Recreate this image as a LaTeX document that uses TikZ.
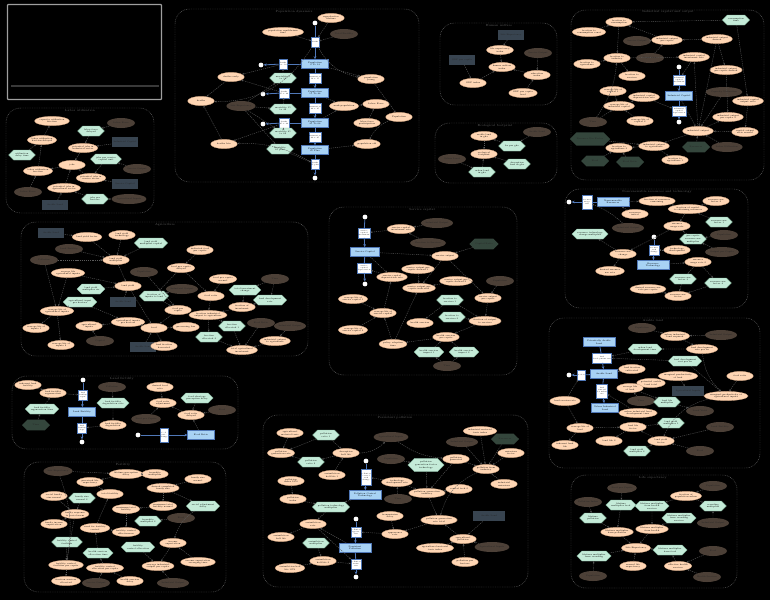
\documentclass[tikz,border=0pt]{standalone}
\usepackage{xcolor}
\usepackage{tikz}
\usetikzlibrary{shapes.geometric,shapes.symbols,arrows.meta}

\definecolor{peach}{RGB}{255,214,180}
\definecolor{peachline}{RGB}{205,160,125}
\definecolor{mint}{RGB}{196,235,216}
\definecolor{mintline}{RGB}{130,180,155}
\definecolor{ghostbrown}{RGB}{76,64,55}
\definecolor{ghostslate}{RGB}{56,68,80}
\definecolor{ghostgreen}{RGB}{52,70,60}
\definecolor{stockblue}{RGB}{168,210,244}
\definecolor{flowblue}{RGB}{80,120,184}
\definecolor{linkgray}{RGB}{90,90,90}
\definecolor{framegray}{RGB}{95,95,95}

\begin{document}
\begin{tikzpicture}[x=0.75pt,y=0.75pt,yscale=-1,xscale=1,
    tiny/.style={font=\fontsize{1.6}{1.9}\selectfont, align=center},
    var/.style={tiny, ellipse, fill=peach, draw=peachline, line width=0.2pt, inner sep=0pt, minimum width=20pt, minimum height=7pt},
    aux/.style={tiny, signal, signal to=east and west, fill=mint, draw=mintline, line width=0.2pt, inner sep=0.4pt, minimum width=20pt, minimum height=7.5pt},
    ghost/.style={tiny, ellipse, fill=ghostbrown, text=black!85, inner sep=0pt, minimum width=21pt, minimum height=7.5pt},
    ghostbox/.style={tiny, rectangle, fill=ghostslate, text=black!85, inner sep=0pt, minimum width=20pt, minimum height=7pt},
    ghosthex/.style={tiny, signal, signal to=east and west, fill=ghostgreen, text=black!85, inner sep=0.4pt, minimum width=21pt, minimum height=8pt},
    stock/.style={tiny, rectangle, fill=stockblue, draw=flowblue, line width=0.3pt, inner sep=0.5pt, minimum width=20pt, minimum height=7pt},
    valve/.style={rectangle, fill=white, draw=flowblue, line width=0.2pt, inner sep=0.4pt, minimum width=5.5pt, minimum height=7pt, font=\fontsize{1.3}{1.5}\selectfont, align=center},
    sink/.style={circle, fill=white, inner sep=0pt, minimum size=3.6pt},
    link/.style={draw=linkgray, line width=0.3pt, dash pattern=on 0.9pt off 0.7pt, -{Stealth[length=1.6pt,width=1.3pt]}},
    pipeline/.style={draw=flowblue, line width=0.6pt},
    pipe/.style={draw=flowblue, line width=0.6pt, -{Stealth[length=2.2pt,width=2pt]}},
    sector/.style={draw=framegray, line width=0.35pt, dash pattern=on 0.6pt off 0.7pt, rounded corners=11pt},
    sectitle/.style={font=\fontsize{2.2}{2.5}\selectfont, text=framegray}]

% page
\fill[black] (0,0) rectangle (770,600);
\useasboundingbox (0,0) rectangle (770,600);

% legend panel
\draw[gray!75, line width=0.9pt, rounded corners=0.6pt] (7.5,4.5) rectangle (161.5,99.5);
\draw[gray!45!black, line width=1.1pt] (11,86) -- (159,86);

% ---------------- labor utilization
\draw[sector] (6,108) rectangle (154,213);
\node[sectitle] (lutitle) at (80,110.5) {Labor utilization};
\node[var] (lu1) at (52,121) {capacity utilization\\fraction};
\node[aux] (lu2) at (91,131) {labor force\\delayed};
\node[ghost] (lu3) at (121,123) {Labor Force};
\node[var] (lu4) at (42,140) {labor utilization\\fraction delayed};
\node[ghostbox] (lu5) at (125,142) {Industrial Capital};
\node[var] (lu6) at (83,148) {potential jobs in\\industrial sector};
\node[aux] (lu7) at (22,155) {utilization\\delay time};
\node[aux] (lu8) at (106,159) {jobs per service\\capital unit};
\node[var] (lu9) at (72,165) {jobs};
\node[ghost] (lu10) at (137,169) {Service Output};
\node[var] (lu11) at (38,171) {labor utilization\\fraction};
\node[var] (lu12) at (91,178) {potential jobs in\\service sector};
\node[ghostbox] (lu13) at (125,184) {Service Capital};
\node[ghost] (lu14) at (28,192) {Labor Force};
\node[var] (lu15) at (64,188) {potential jobs in\\agricultural sector};
\node[ghostbox] (lu16) at (55,205) {Arable Land};
\node[aux] (lu17) at (95,199) {jobs per\\hectare};
\node[ghost] (lu18) at (129,199) {Agricultural Inputs};
\draw[link] (lu4) -- (lu1);
\draw[link] (lu7) -- (lu4);
\draw[link] (lu11) -- (lu4);
\draw[link] (lu3) -- (lu2);
\draw[link] (lu2) -- (lu6);
\draw[link] (lu5) -- (lu6);
\draw[link] (lu6) -- (lu9);
\draw[link] (lu8) -- (lu12);
\draw[link] (lu10) -- (lu8);
\draw[link] (lu13) -- (lu12);
\draw[link] (lu12) -- (lu9);
\draw[link] (lu15) -- (lu9);
\draw[link] (lu16) -- (lu15);
\draw[link] (lu17) -- (lu15);
\draw[link] (lu18) -- (lu17);
\draw[link] (lu9) -- (lu11);
\draw[link] (lu14) -- (lu11);

% ---------------- population
\draw[sector] (175,9) rectangle (419,182);
\node[sectitle] (potitle) at (294,11.5) {Population dynamics};
\node[sink] (poc0) at (315,23) {};
\node[var] (po1) at (331,18) {reproductive\\lifetime};
\node[var] (po2) at (283,32) {population equilibrium\\time};
\node[ghost] (po3) at (344,34) {Total Fertility};
\node[valve] (pov0) at (315,42) {births};
\node[stock] (ps1) at (315,64) {Population\\0 To 14};
\node[valve] (pod1) at (283,64) {deaths\\0 to 14};
\node[sink] (poc1) at (261,65) {};
\node[var] (po4) at (231,77) {deaths early};
\node[aux] (pm1) at (283,78) {mortality 0\\to 14};
\node[valve] (pov1) at (315,78) {maturation\\14 to 15};
\node[var] (po5) at (371,79) {population\\young};
\node[var] (po6) at (201,101) {deaths};
\node[stock] (ps2) at (315,93) {Population\\15 To 44};
\node[valve] (pod2) at (284,93) {deaths\\15 to 44};
\node[sink] (poc2) at (263,94) {};
\node[ghost] (po7) at (241,106) {Life Expectancy};
\node[aux] (pm2) at (283,109) {mortality 15\\to 44};
\node[valve] (pov2) at (315,108) {maturation\\44 to 45};
\node[var] (po8) at (344,106) {work population};
\node[var] (po9) at (376,104) {Labor Force};
\node[var] (po10) at (399,117) {Population};
\node[var] (po11) at (367,123) {labor force\\participation};
\node[stock] (ps3) at (315,123) {Population\\45 To 64};
\node[valve] (pod3) at (284,123) {deaths\\45 to 64};
\node[sink] (poc3) at (263,124) {};
\node[aux] (pm3) at (283,133) {mortality 45\\to 64};
\node[valve] (pov3) at (315,137) {maturation\\64 to 65};
\node[var] (po12) at (224,144) {deaths late};
\node[var] (po13) at (367,144) {population old};
\node[aux] (pm4) at (280,149) {mortality\\65 plus};
\node[stock] (ps4) at (315,150) {Population\\65 Plus};
\node[valve] (pov4) at (315,164) {deaths\\65 plus};
\node[sink] (poc4) at (315,178) {};
\draw[pipeline] (poc0) -- (pov0);
\draw[pipe] (pov0) -- (ps1);
\draw[pipeline] (ps1) -- (pov1);
\draw[pipe] (pov1) -- (ps2);
\draw[pipeline] (ps2) -- (pov2);
\draw[pipe] (pov2) -- (ps3);
\draw[pipeline] (ps3) -- (pov3);
\draw[pipe] (pov3) -- (ps4);
\draw[pipeline] (ps4) -- (pov4);
\draw[pipe] (pov4) -- (poc4);
\draw[pipeline] (ps1) -- (pod1);
\draw[pipe] (pod1) -- (poc1);
\draw[pipeline] (ps2) -- (pod2);
\draw[pipe] (pod2) -- (poc2);
\draw[pipeline] (ps3) -- (pod3);
\draw[pipe] (pod3) -- (poc3);
\draw[link] (po1) -- (pov0);
\draw[link] (po2) -- (pov0);
\draw[link] (po3) -- (pov0);
\draw[link] (pm1) -- (pod1);
\draw[link] (pm2) -- (pod2);
\draw[link] (pm3) -- (pod3);
\draw[link] (pm4) -- (pov4);
\draw[link] (po7) -- (pm1);
\draw[link] (po7) -- (pm2);
\draw[link] (po7) -- (pm3);
\draw[link] (po7) -- (pm4);
\draw[link] (pod1) -- (po4);
\draw[link] (pod2) -- (po4);
\draw[link] (po4) -- (po6);
\draw[link] (pod3) -- (po12);
\draw[link] (pov4) to[bend left=15] (po12);
\draw[link] (po12) -- (po6);
\draw[link] (pov0) to[bend right=30] (po6);
\draw[link] (pov0) to[bend left=25] (po5);
\draw[link] (ps1) -- (po5);
\draw[link] (ps2) -- (po8);
\draw[link] (ps3) -- (po8);
\draw[link] (po8) -- (po9);
\draw[link] (po11) -- (po9);
\draw[link] (po5) -- (po10);
\draw[link] (ps4) -- (po13);
\draw[link] (po10) to[bend left=20] (po13);

% ---------------- human welfare
\draw[sector] (440,23) rectangle (557,105);
\node[sectitle] (hwtitle) at (499,25.5) {Human welfare};
\node[ghostbox] (hw1) at (511,35) {Life Expectancy};
\node[var] (hw2) at (500,50) {life expectancy\\index};
\node[ghostbox] (hw3) at (462,60) {GDP per capita};
\node[ghost] (hw4) at (538,53) {Service Output};
\node[var] (hw5) at (502,67) {human welfare\\index};
\node[var] (hw6) at (537,75) {education\\index};
\node[var] (hw7) at (473,83) {GDP index};
\node[var] (hw8) at (523,93) {GDP per capita\\level};
\draw[link] (hw1) -- (hw2);
\draw[link] (hw2) -- (hw5);
\draw[link] (hw3) -- (hw7);
\draw[link] (hw7) -- (hw5);
\draw[link] (hw4) -- (hw6);
\draw[link] (hw6) -- (hw5);
\draw[link] (hw8) -- (hw6);

% ---------------- ecological footprint
\draw[sector] (435,123) rectangle (557,183);
\node[sectitle] (eftitle) at (495,125.5) {Ecological footprint};
\node[var] (ef1) at (484,136) {arable land\\in gha};
\node[ghost] (ef2) at (537,132) {Arable Land};
\node[aux] (ef3) at (512,146) {ha per gha};
\node[var] (ef4) at (484,154) {ecological\\footprint};
\node[ghost] (ef5) at (452,159) {Urban Land};
\node[aux] (ef6) at (517,164) {absorption\\land in gha};
\node[aux] (ef7) at (482,172) {urban land\\in gha};
\draw[link] (ef2) -- (ef3);
\draw[link] (ef3) -- (ef1);
\draw[link] (ef1) -- (ef4);
\draw[link] (ef6) -- (ef4);
\draw[link] (ef7) -- (ef4);
\draw[link] (ef5) -- (ef7);

% ---------------- industrial capital
\draw[sector] (571,10) rectangle (764,180);
\node[sectitle] (ictitle) at (668,11.5) {Industrial capital and output};
\node[var] (ic1) at (619,22) {fraction to\\consumption};
\node[aux] (ic2) at (736,20) {consumption\\time};
\node[var] (ic3) at (589,32) {fraction to\\consumption const};
\node[ghost] (ic4) at (637,41) {Service Output};
\node[var] (ic5) at (667,40) {industrial output\\per capita};
\node[var] (ic6) at (717,39) {industrial output\\desired};
\node[ghost] (ic7) at (650,58) {Population};
\node[var] (ic8) at (617,58) {fraction to\\industry};
\node[var] (ic9) at (694,57) {industrial capital\\investment rate};
\node[var] (ic10) at (587,64) {fraction to\\agriculture};
\node[sink] (icc1) at (679,67) {};
\node[var] (ic11) at (632,76) {fraction to\\services};
\node[valve] (icv1) at (679,80) {industrial\\capital\\investment};
\node[var] (ic12) at (726,70) {industrial output\\per capita desired};
\node[var] (ic13) at (613,91) {average life of\\capital 1};
\node[stock] (ics) at (679,96) {Industrial Capital};
\node[var] (ic14) at (644,97) {industrial capital\\depreciation rate};
\node[ghost] (ic15) at (724,92) {Capacity Utilization};
\node[var] (ic16) at (619,106) {average life of\\industrial capital};
\node[var] (ic17) at (748,101) {industrial capital\\output ratio};
\node[valve] (icv2) at (679,111) {industrial\\capital\\depreciation};
\node[var] (ic18) at (640,121) {average life of\\capital 2};
\node[ghost] (ic19) at (593,122) {Time};
\node[var] (ic20) at (728,117) {industrial output\\per capita 2};
\node[sink] (icc2) at (679,122) {};
\node[var] (ic21) at (698,131) {industrial output};
\node[var] (ic22) at (745,132) {capital output\\ratio normal};
\node[ghosthex, minimum width=28pt, minimum height=10pt] (ic23) at (590,139) {Resource Use Factor};
\node[var] (ic24) at (654,146) {industrial output\\to agriculture};
\node[ghosthex] (ic25) at (696,147) {Resources};
\node[ghost] (ic26) at (727,147) {Labor Utilization};
\node[var] (ic27) at (619,148) {fraction to\\agriculture 2};
\node[ghosthex] (ic28) at (595,161) {Food};
\node[ghosthex] (ic29) at (630,162) {Food Ratio};
\node[var] (ic30) at (675,160) {fraction to\\agriculture 1};
\draw[pipeline] (icc1) -- (icv1);
\draw[pipe] (icv1) -- (ics);
\draw[pipeline] (ics) -- (icv2);
\draw[pipe] (icv2) -- (icc2);
\draw[link] (ic2) -- (ic1);
\draw[link] (ic3) -- (ic1);
\draw[link] (ic5) -- (ic1);
\draw[link] (ic1) -- (ic8);
\draw[link] (ic4) -- (ic5);
\draw[link] (ic7) -- (ic5);
\draw[link] (ic6) -- (ic5);
\draw[link] (ic6) -- (ic12);
\draw[link] (ic10) -- (ic8);
\draw[link] (ic8) -- (ic11);
\draw[link] (ic8) -- (ic9);
\draw[link] (ic9) -- (icv1);
\draw[link] (ic19) to[bend left=15] (ic8);
\draw[link] (ic13) -- (ic16);
\draw[link] (ic18) -- (ic16);
\draw[link] (ic19) -- (ic16);
\draw[link] (ic16) -- (ic14);
\draw[link] (ic14) -- (icv2);
\draw[link] (ics) -- (ic21);
\draw[link] (ic15) -- (ic21);
\draw[link] (ic26) -- (ic21);
\draw[link] (ic25) -- (ic21);
\draw[link] (ic22) -- (ic21);
\draw[link] (ic2) -- (ic17);
\draw[link] (ic17) -- (ic22);
\draw[link] (ic12) -- (ic20);
\draw[link] (ic21) -- (ic20);
\draw[link] (ic21) -- (ic9);
\draw[link] (ic6) -- (ic21);
\draw[link] (ic21) -- (ic24);
\draw[link] (ic23) -- (ic24);
\draw[link] (ic24) -- (ic27);
\draw[link] (ic24) -- (ic30);
\draw[link] (ic28) -- (ic27);
\draw[link] (ic29) -- (ic27);

% ---------------- agriculture
\draw[sector] (21,222) rectangle (308,356);
\node[sectitle] (agtitle) at (165,224.5) {Agriculture};
\node[ghostbox] (ag1) at (51,233) {Arable Land};
\node[var] (ag2) at (87,237) {land yield factor};
\node[var] (ag3) at (122,235) {land yield\\technology};
\node[aux] (ag4) at (151,243) {land yield\\multiplier capital};
\node[ghost] (ag5) at (69,249) {Land Fertility};
\node[var] (ag6) at (200,250) {indicated food\\per capita};
\node[ghost] (ag7) at (44,260) {Pollution};
\node[var] (ag8) at (116,260) {land yield\\multiplier};
\node[var] (ag9) at (181,268) {food per capita\\delayed};
\node[ghost] (ag10) at (144,272) {Population};
\node[var] (ag11) at (68,273) {average life\\agricultural inputs};
\node[var] (ag12) at (128,286) {land yield};
\node[aux] (ag13) at (91,289) {land yield\\multiplier air};
\node[ghost] (ag14) at (182,289) {Industrial Output};
\node[var] (ag15) at (223,279) {food per capita\\normal};
\node[ghost] (ag16) at (275,279) {Time};
\node[aux] (ag17) at (154,296) {fraction of\\inputs to land};
\node[var] (ag18) at (211,296) {food ratio};
\node[aux] (ag19) at (245,290) {total investment\\change};
\node[ghostbox] (ag20) at (123,302) {Arable Land};
\node[aux] (ag21) at (80,302) {agricultural input\\per hectare};
\node[aux] (ag22) at (270,300) {land development\\rate};
\node[var] (ag23) at (178,310) {food per\\capita};
\node[var] (ag24) at (242,307) {fraction of\\investment};
\node[var] (ag25) at (57,311) {average life of\\agricultural inputs};
\node[var] (ag26) at (208,315) {fraction industrial\\output to agriculture};
\node[var] (ag27) at (128,322) {agricultural inputs\\per hectare};
\node[var] (ag28) at (89,326) {agricultural\\inputs};
\node[aux] (ag29) at (232,326) {fraction\\allocated 1};
\node[ghost] (ag30) at (261,323) {Food Ratio};
\node[var] (ag31) at (186,327) {processing loss};
\node[var] (ag32) at (154,328) {food};
\node[ghost] (ag33) at (290,326) {Industrial Output};
\node[var] (ag34) at (36,328) {average life of\\inputs 1};
\node[aux] (ag35) at (209,337) {fraction\\allocated 2};
\node[ghost] (ag36) at (100,341) {Capital};
\node[var] (ag37) at (61,345) {average life of\\inputs 2};
\node[ghostbox] (ag38) at (143,347) {Arable Land};
\node[var] (ag39) at (164,346) {land fraction\\harvested};
\node[var] (ag40) at (242,350) {total agricultural\\investment};
\node[var] (ag41) at (275,341) {industrial output\\to agriculture};
\draw[link] (ag1) -- (ag2);
\draw[link] (ag2) -- (ag8);
\draw[link] (ag3) -- (ag8);
\draw[link] (ag4) -- (ag8);
\draw[link] (ag5) -- (ag8);
\draw[link] (ag7) -- (ag8);
\draw[link] (ag8) -- (ag12);
\draw[link] (ag11) -- (ag12);
\draw[link] (ag13) -- (ag12);
\draw[link] (ag20) -- (ag12);
\draw[link] (ag12) -- (ag32);
\draw[link] (ag6) -- (ag9);
\draw[link] (ag9) -- (ag17);
\draw[link] (ag9) -- (ag18);
\draw[link] (ag10) -- (ag23);
\draw[link] (ag14) -- (ag17);
\draw[link] (ag17) -- (ag23);
\draw[link] (ag23) -- (ag32);
\draw[link] (ag15) -- (ag18);
\draw[link] (ag18) -- (ag26);
\draw[link] (ag16) -- (ag19);
\draw[link] (ag16) -- (ag22);
\draw[link] (ag19) -- (ag24);
\draw[link] (ag22) -- (ag24);
\draw[link] (ag24) -- (ag26);
\draw[link] (ag26) -- (ag29);
\draw[link] (ag26) -- (ag35);
\draw[link] (ag29) -- (ag40);
\draw[link] (ag35) -- (ag40);
\draw[link] (ag30) -- (ag40);
\draw[link] (ag33) -- (ag41);
\draw[link] (ag41) -- (ag40);
\draw[link] (ag7) -- (ag25);
\draw[link] (ag11) -- (ag25);
\draw[link] (ag21) -- (ag25);
\draw[link] (ag25) -- (ag34);
\draw[link] (ag25) -- (ag37);
\draw[link] (ag21) -- (ag27);
\draw[link] (ag27) -- (ag28);
\draw[link] (ag36) -- (ag28);
\draw[link] (ag27) -- (ag32);
\draw[link] (ag38) -- (ag32);
\draw[link] (ag32) -- (ag31);
\draw[link] (ag32) -- (ag39);

% ---------------- services
\draw[sector] (329,207) rectangle (517,375);
\node[sectitle] (svtitle) at (422,209.5) {Service capital};
\node[sink] (svc1) at (365,217) {};
\node[valve] (svv1) at (364,233) {service\\capital\\investment};
\node[var] (sv1) at (401,229) {service capital\\investment rate};
\node[ghost] (sv2) at (437,223) {Industrial Output};
\node[ghost] (sv3) at (428,243) {Fraction to Services};
\node[stock, minimum width=22pt] (svs) at (365,252) {Service Capital};
\node[ghosthex] (sv4) at (484,244) {Capital Ratio};
\node[var] (sv5) at (445,256) {service output};
\node[valve] (svv2) at (364,268) {service\\capital\\depreciation};
\node[var] (sv6) at (418,269) {service output per\\capita desired 1};
\node[var] (sv7) at (392,277) {service capital\\depreciation rate};
\node[var] (sv8) at (456,281) {service output per\\capita desired 2};
\node[var] (sv9) at (419,288) {service output per\\capita indicated};
\node[ghost] (sv10) at (500,281) {Population};
\node[sink] (svc2) at (365,284) {};
\node[var] (sv11) at (353,299) {average life of\\service capital 1};
\node[var] (sv12) at (488,298) {service output\\per capita};
\node[aux] (sv13) at (450,300) {fraction to\\services 1};
\node[var] (sv14) at (383,313) {average life of\\service capital};
\node[aux] (sv15) at (452,317) {fraction to\\services 2};
\node[var] (sv16) at (420,323) {health services};
\node[var] (sv17) at (485,321) {fraction of output\\to services};
\node[var] (sv18) at (353,330) {average life of\\service capital 2};
\node[var] (sv19) at (446,337) {health services\\per capita};
\node[var] (sv20) at (393,344) {policy adoption\\time};
\node[aux] (sv21) at (429,352) {health services\\impact 1};
\node[aux] (sv22) at (464,352) {health services\\impact 2};
\node[ghost] (sv23) at (447,366) {Time};
\draw[pipeline] (svc1) -- (svv1);
\draw[pipe] (svv1) -- (svs);
\draw[pipeline] (svs) -- (svv2);
\draw[pipe] (svv2) -- (svc2);
\draw[link] (sv1) -- (svv1);
\draw[link] (sv2) -- (sv1);
\draw[link] (sv3) -- (sv1);
\draw[link] (svs) -- (sv5);
\draw[link] (sv4) -- (sv5);
\draw[link] (svs) -- (sv7);
\draw[link] (sv7) -- (svv2);
\draw[link] (sv6) -- (sv9);
\draw[link] (sv8) -- (sv9);
\draw[link] (sv5) -- (sv9);
\draw[link] (sv5) -- (sv12);
\draw[link] (sv10) -- (sv12);
\draw[link] (sv12) -- (sv17);
\draw[link] (sv13) -- (sv17);
\draw[link] (sv15) -- (sv17);
\draw[link] (sv17) -- (sv19);
\draw[link] (sv21) -- (sv19);
\draw[link] (sv22) -- (sv19);
\draw[link] (sv23) -- (sv21);
\draw[link] (sv23) -- (sv22);
\draw[link] (sv11) -- (sv14);
\draw[link] (sv18) -- (sv14);
\draw[link] (sv14) -- (sv7);
\draw[link] (sv20) -- (sv14);
\draw[link] (sv20) -- (sv9);
\draw[link] (sv13) -- (sv16);
\draw[link] (sv19) -- (sv20);

% ---------------- nonrenewable resources
\draw[sector] (565,189) rectangle (748,308);
\node[sectitle] (nrtitle) at (657,191.5) {Nonrenewable resources and technology};
\node[sink] (nrc1) at (569,202) {};
\node[valve, minimum height=11pt] (nrv1) at (587,202) {resource\\usage\\rate};
\node[stock, minimum width=24pt] (nrs1) at (613,202) {Nonrenewable\\Resources};
\node[var] (nr1) at (657,201) {fraction of resources\\remaining};
\node[var] (nr2) at (716,201) {resource use\\factor 2};
\node[var] (nr3) at (688,209) {fraction of capital\\to obtaining resources};
\node[var] (nr4) at (635,214) {resources\\initial};
\node[aux] (nr5) at (719,222) {resource use\\factor 1};
\node[ghost] (nr6) at (628,228) {Industrial Output};
\node[var] (nr7) at (677,226) {resource\\usage rate};
\node[ghost] (nr8) at (724,235) {Population};
\node[aux, minimum width=24pt] (nr9) at (590,234) {resource technology\\change multiplier};
\node[aux] (nr10) at (693,239) {per capita\\resource use\\multiplier};
\node[sink] (nrc2) at (654,237) {};
\node[valve] (nrv2) at (654,250) {resource\\tech\\change};
\node[var] (nr11) at (677,250) {technology\\development};
\node[ghost] (nr12) at (722,252) {Output per Capita};
\node[var] (nr13) at (623,254) {resource use\\change};
\node[stock, minimum width=24pt] (nrs2) at (653,265) {Resource\\Technology};
\node[var] (nr14) at (698,262) {resource\\usage rate 2};
\node[var] (nr15) at (610,271) {desired resource\\use rate};
\node[aux] (nr16) at (683,279) {resource use\\factor 3};
\node[aux] (nr17) at (718,283) {resource use\\factor 4};
\node[var] (nr18) at (648,289) {desired resource use\\rate per capita};
\node[var] (nr19) at (678,296) {resource use\\factor};
\draw[pipeline] (nrs1) -- (nrv1);
\draw[pipe] (nrv1) -- (nrc1);
\draw[pipeline] (nrc2) -- (nrv2);
\draw[pipe] (nrv2) -- (nrs2);
\draw[link] (nrs1) -- (nr1);
\draw[link] (nr1) -- (nr3);
\draw[link] (nr5) -- (nr3);
\draw[link] (nr2) -- (nr3);
\draw[link] (nr3) -- (nr7);
\draw[link] (nr4) -- (nrs1);
\draw[link] (nr6) to[bend left=10] (nrv1);
\draw[link] (nr7) -- (nr13);
\draw[link] (nr13) -- (nr9);
\draw[link] (nr13) -- (nr15);
\draw[link] (nr10) -- (nr7);
\draw[link] (nr8) -- (nr10);
\draw[link] (nr12) -- (nr10);
\draw[link] (nr11) -- (nrv2);
\draw[link] (nrs2) -- (nr14);
\draw[link] (nr14) -- (nr16);
\draw[link] (nr14) -- (nr17);
\draw[link] (nr16) -- (nr19);
\draw[link] (nr17) -- (nr19);
\draw[link] (nr18) -- (nr19);

% ---------------- land fertility
\draw[sector] (12,376) rectangle (238,449);
\node[sectitle] (lftitle) at (122,378.5) {Land fertility};
\node[sink] (lfc1) at (83,380) {};
\node[valve] (lfv1) at (83,395) {land\\fertility\\regen.};
\node[var] (lf1) at (28,385) {inherent land\\fertility};
\node[ghost] (lf2) at (112,387) {Pollution};
\node[var] (lf3) at (53,393) {land fertility\\regeneration};
\node[var] (lf4) at (160,387) {desired food\\ratio};
\node[aux] (lf5) at (197,398) {food shortage\\perception delay};
\node[var] (lf6) at (163,403) {food ratio\\adjustment};
\node[aux, minimum width=24pt] (lf7) at (113,403) {land fertility\\degradation rate};
\node[aux, minimum width=24pt] (lf8) at (42,409) {land fertility\\regeneration time};
\node[stock] (lfs1) at (82,412) {Land Fertility};
\node[ghost] (lf9) at (222,410) {Food};
\node[var] (lf10) at (191,415) {food ratio\\delayed};
\node[ghost] (lf11) at (146,419) {Food per Capita};
\node[ghosthex] (lf12) at (36,425) {Time};
\node[var] (lf13) at (113,425) {land fertility\\degradation};
\node[valve] (lfv2) at (82,428) {land\\fertility\\degr.};
\node[sink] (lfc2) at (82,442) {};
\node[sink] (lfc3) at (138,435) {};
\node[valve, minimum height=10pt] (lfv3) at (164,435) {food\\ratio\\change};
\node[stock] (lfs2) at (201,435) {Food Ratio};
\draw[pipeline] (lfc1) -- (lfv1);
\draw[pipe] (lfv1) -- (lfs1);
\draw[pipeline] (lfs1) -- (lfv2);
\draw[pipe] (lfv2) -- (lfc2);
\draw[pipeline] (lfc3) -- (lfv3);
\draw[pipe] (lfv3) -- (lfs2);
\draw[link] (lf1) -- (lf3);
\draw[link] (lf3) -- (lfv1);
\draw[link] (lf8) -- (lf3);
\draw[link] (lf12) -- (lf8);
\draw[link] (lf2) -- (lf7);
\draw[link] (lf7) -- (lf13);
\draw[link] (lf13) -- (lfv2);
\draw[link] (lf4) -- (lf6);
\draw[link] (lf11) -- (lf6);
\draw[link] (lf5) -- (lf10);
\draw[link] (lf9) -- (lf10);
\draw[link] (lfs2) -- (lf10);
\draw[link] (lf10) -- (lf6);

% ---------------- arable land
\draw[sector] (549,318) rectangle (760,468);
\node[sectitle] (altitle) at (653,320.5) {Arable land};
\node[ghost] (al1) at (642,328) {Population};
\node[var] (al2) at (675,336) {urban industrial\\land required};
\node[ghost] (al3) at (721,335) {Industrial Output};
\node[stock, minimum width=24pt] (als1) at (599,342) {Potentially Arable\\Land};
\node[aux] (al4) at (645,349) {urban land\\development time};
\node[var] (al5) at (702,349) {land development\\rate per ha};
\node[valve, minimum width=14pt] (alv1) at (602,358) {land\\development rate};
\node[aux, minimum width=24pt] (al6) at (685,361) {land development\\cost per ha};
\node[sink] (alc1) at (569,375) {};
\node[valve] (alv2) at (581,375) {erosion};
\node[stock] (als2) at (604,374) {Arable Land};
\node[var] (al7) at (632,369) {land fraction\\cultivated};
\node[var] (al8) at (678,376) {marginal productivity\\of land};
\node[var] (al9) at (740,376) {food ratio};
\node[var] (al10) at (651,383) {potential arable\\land total};
\node[var] (al11) at (630,388) {average life\\of land};
\node[valve, minimum height=11pt] (alv3) at (602,391) {land\\removal\\for urban\\use};
\node[ghostbox, minimum width=24pt] (al12) at (688,391) {Agricultural Inputs};
\node[var] (al13) at (726,396) {marginal productivity of\\agricultural inputs};
\node[ghost] (al14) at (641,401) {Time};
\node[aux] (al15) at (667,402) {land life\\multiplier};
\node[var] (al16) at (565,401) {land erosion rate};
\node[ghost] (al17) at (700,411) {Land Yield};
\node[stock] (als3) at (605,408) {Urban Industrial\\Land};
\node[var] (al18) at (638,413) {urban industrial land\\development time};
\node[aux] (al19) at (671,423) {land yield\\multiplier 1};
\node[var] (al20) at (580,428) {average life of\\land};
\node[var] (al21) at (633,427) {land life\\factor};
\node[ghost] (al22) at (720,427) {Land Fertility};
\node[var] (al23) at (565,445) {inherent land\\life};
\node[var] (al24) at (609,441) {land life 2};
\node[var] (al25) at (661,441) {land yield\\factor};
\node[aux] (al26) at (637,451) {land yield\\multiplier 2};
\node[ghost] (al27) at (700,451) {Food};
\draw[pipeline] (als1) -- (alv1);
\draw[pipe] (alv1) -- (als2);
\draw[pipeline] (als2) -- (alv3);
\draw[pipe] (alv3) -- (als3);
\draw[pipeline] (als2) -- (alv2);
\draw[pipe] (alv2) -- (alc1);
\draw[link] (al1) -- (al2);
\draw[link] (al3) -- (al2);
\draw[link] (al2) -- (al5);
\draw[link] (al5) -- (al4);
\draw[link] (al4) -- (alv1);
\draw[link] (al6) -- (alv1);
\draw[link] (al7) -- (als2);
\draw[link] (al10) -- (al8);
\draw[link] (al8) -- (al12);
\draw[link] (al9) -- (al13);
\draw[link] (al5) to[bend left=20] (al13);
\draw[link] (al6) -- (al13);
\draw[link] (al11) -- (al15);
\draw[link] (al14) -- (al11);
\draw[link] (al15) -- (al17);
\draw[link] (al16) -- (alv2);
\draw[link] (al16) -- (al20);
\draw[link] (al20) -- (al23);
\draw[link] (al20) -- (al21);
\draw[link] (al21) -- (al19);
\draw[link] (al21) -- (al24);
\draw[link] (al25) -- (al21);
\draw[link] (al26) -- (al25);
\draw[link] (al27) -- (al25);
\draw[link] (al22) -- (al25);
\draw[link] (al13) to[bend left=25] (al25);
\draw[link] (al18) -- (alv3);

% ---------------- persistent pollution
\draw[sector] (263,415) rectangle (528,587);
\node[sectitle] (pptitle) at (395,417.5) {Persistent pollution};
\node[var] (pp1) at (290,433) {agricultural\\material toxic};
\node[aux] (pp2) at (326,435) {pollution\\ratio 1};
\node[ghost] (pp3) at (391,437) {Agricultural Inputs};
\node[var] (pp4) at (480,431) {industrial material\\toxic index};
\node[ghosthex] (pp5) at (505,439) {Resources};
\node[ghost] (pp6) at (462,442) {Industrial Output};
\node[var] (pp7) at (281,453) {pollution\\generation rate};
\node[var] (pp8) at (346,453) {absorption\\half life};
\node[aux] (pp9) at (311,462) {pollution\\ratio 2};
\node[var] (pp10) at (456,459) {pollution\\generated};
\node[ghost] (pp11) at (391,459) {Population};
\node[var] (pp12) at (511,453) {emissions\\factor};
\node[aux, minimum width=25pt, minimum height=10pt] (pp13) at (426,465) {pollution\\generation factor\\technology};
\node[sink] (ppc1) at (366,461) {};
\node[var] (pp14) at (486,469) {pollution from\\industry};
\node[var] (pp15) at (332,475) {assimilation\\half life 1};
\node[valve, minimum height=12pt] (ppv1) at (366,477) {pollution\\control\\tech\\change};
\node[var] (pp16) at (291,481) {pollution\\index 1970};
\node[var] (pp17) at (397,482) {technology\\development rate};
\node[var] (pp18) at (504,484) {industrial\\emissions};
\node[var] (pp19) at (459,489) {control tech 2};
\node[stock, minimum width=24pt] (pps1) at (365,495) {Pollution Control\\Technology};
\node[var] (pp20) at (427,493) {pollution generation\\industry};
\node[var] (pp21) at (293,499) {pollution\\index};
\node[ghost] (pp22) at (398,499) {Time};
\node[aux, minimum width=25pt] (pp23) at (331,507) {pollution technology\\multiplier};
\node[ghostbox, minimum width=24pt, minimum height=8pt] (pp24) at (489,516) {Arable Land};
\node[var] (pp25) at (390,516) {transmission\\delay};
\node[var] (pp26) at (439,520) {pollution generation\\rate total};
\node[var] (pp27) at (313,524) {assimilation\\rate};
\node[sink] (ppc2) at (356,519) {};
\node[valve] (ppv2) at (356,532) {pollution\\appear.\\rate};
\node[var] (pp28) at (395,534) {appearance\\rate};
\node[var] (pp29) at (281,537) {assimilation\\half life};
\node[aux] (pp30) at (316,543) {assimilation\\multiplier};
\node[stock, minimum width=24pt] (pps2) at (355,548) {Persistent\\Pollution};
\node[var] (pp31) at (463,539) {agricultural\\pollution};
\node[ghost] (pp32) at (492,547) {Agricultural Inputs};
\node[var] (pp33) at (435,548) {agricultural material\\toxic index};
\node[var] (pp34) at (323,561) {assimilation\\half life 2};
\node[valve] (ppv3) at (356,564) {pollution\\assim.\\rate};
\node[var] (pp35) at (465,562) {pollution per\\hectare};
\node[var] (pp36) at (290,568) {assimilation half\\life 1970};
\node[sink] (ppc3) at (356,577) {};
\draw[pipeline] (ppc1) -- (ppv1);
\draw[pipe] (ppv1) -- (pps1);
\draw[pipeline] (ppc2) -- (ppv2);
\draw[pipe] (ppv2) -- (pps2);
\draw[pipeline] (pps2) -- (ppv3);
\draw[pipe] (ppv3) -- (ppc3);
\draw[link] (pp1) -- (pp7);
\draw[link] (pp2) -- (pp7);
\draw[link] (pp9) -- (pp7);
\draw[link] (pp2) -- (pp8);
\draw[link] (pp15) -- (pp8);
\draw[link] (pp8) -- (pp9);
\draw[link] (pp8) to[bend left=20] (pp3);
\draw[link] (pp3) to[bend left=15] (pp10);
\draw[link] (pp11) -- (pp13);
\draw[link] (pp13) -- (pp20);
\draw[link] (pp17) -- (ppv1);
\draw[link] (pp17) -- (pp20);
\draw[link] (pp10) -- (pp20);
\draw[link] (pp4) -- (pp14);
\draw[link] (pp6) -- (pp14);
\draw[link] (pp5) -- (pp14);
\draw[link] (pp12) -- (pp14);
\draw[link] (pp18) -- (pp14);
\draw[link] (pp10) -- (pp14);
\draw[link] (pp14) to[bend left=25] (pp26);
\draw[link] (pp20) -- (pp26);
\draw[link] (pp19) -- (pp20);
\draw[link] (pp22) -- (pp17);
\draw[link] (pp16) -- (pp21);
\draw[link] (pp21) -- (pp23);
\draw[link] (pps1) -- (pp23);
\draw[link] (pp23) -- (pp27);
\draw[link] (pps2) -- (pp27);
\draw[link] (pp27) -- (pp29);
\draw[link] (pp27) -- (ppv3);
\draw[link] (pp30) -- (pp34);
\draw[link] (pp34) -- (ppv3);
\draw[link] (pp36) -- (pp34);
\draw[link] (pp25) -- (pp28);
\draw[link] (pp28) -- (ppv2);
\draw[link] (pp26) -- (pp28);
\draw[link] (pp31) -- (pp26);
\draw[link] (pp24) -- (pp31);
\draw[link] (pp33) -- (pp31);
\draw[link] (pp35) -- (pp31);
\draw[link] (pp32) -- (pp31);

% ---------------- fertility
\draw[sector] (24,462) rectangle (226,592);
\node[sectitle] (fetitle) at (123,464.5) {Fertility};
\node[ghost] (fe1) at (58,471) {Life Expectancy};
\node[var] (fe2) at (126,474) {lifetime perception\\delay};
\node[var] (fe3) at (155,474) {fecundity\\multiplier};
\node[var] (fe4) at (90,482) {perceived life\\expectancy};
\node[var] (fe5) at (198,479) {family size\\normal};
\node[var] (fe6) at (163,488) {desired completed\\family size};
\node[var] (fe7) at (54,496) {social family\\size normal};
\node[aux] (fe8) at (82,498) {family size\\normal 2};
\node[var] (fe9) at (110,494) {total fertility};
\node[var] (fe10) at (163,506) {maximum total\\fertility normal};
\node[aux] (fe11) at (203,506) {social adjustment\\delay};
\node[var] (fe12) at (126,509) {maximum total\\fertility};
\node[var] (fe13) at (75,514) {family response\\to social norm};
\node[aux] (fe14) at (148,521) {fecundity\\multiplier 2};
\node[ghost] (fe15) at (181,518) {Food};
\node[var] (fe16) at (54,524) {family income\\expectation};
\node[var] (fe17) at (95,528) {need for fertility\\control};
\node[var] (fe18) at (126,532) {fertility control\\effectiveness};
\node[aux] (fe19) at (67,542) {fertility control\\facilities};
\node[var] (fe20) at (173,543) {income\\expectation};
\node[aux] (fe21) at (138,547) {fertility\\control allocation};
\node[aux] (fe22) at (98,553) {health services\\allocation time};
\node[var] (fe23) at (66,565) {fertility control\\facilities per capita};
\node[var] (fe24) at (198,562) {income expectation\\averaging time};
\node[var] (fe25) at (158,566) {average industrial\\output per capita};
\node[var] (fe26) at (105,568) {fertility control\\allocation per capita};
\node[var] (fe27) at (66,581) {fraction services\\allocated};
\node[ghost] (fe28) at (96,583) {Service Output};
\node[var] (fe29) at (130,581) {health services\\delay};
\node[ghost] (fe30) at (173,583) {Industrial Output};
\draw[link] (fe1) -- (fe2);
\draw[link] (fe2) -- (fe4);
\draw[link] (fe3) -- (fe2);
\draw[link] (fe5) -- (fe6);
\draw[link] (fe6) -- (fe10);
\draw[link] (fe4) -- (fe9);
\draw[link] (fe7) -- (fe13);
\draw[link] (fe8) -- (fe13);
\draw[link] (fe10) -- (fe12);
\draw[link] (fe12) -- (fe18);
\draw[link] (fe15) -- (fe14);
\draw[link] (fe16) -- (fe13);
\draw[link] (fe13) -- (fe23);
\draw[link] (fe17) -- (fe18);
\draw[link] (fe17) -- (fe9);
\draw[link] (fe22) -- (fe17);
\draw[link] (fe19) -- (fe23);
\draw[link] (fe21) -- (fe25);
\draw[link] (fe20) -- (fe25);
\draw[link] (fe24) -- (fe20);
\draw[link] (fe6) -- (fe11);
\draw[link] (fe11) to[bend left=20] (fe20);
\draw[link] (fe23) -- (fe27);
\draw[link] (fe28) -- (fe26);
\draw[link] (fe29) -- (fe26);
\draw[link] (fe26) -- (fe22);
\draw[link] (fe30) -- (fe25);
\draw[link] (fe1) to[bend right=15] (fe23);

% ---------------- life expectancy
\draw[sector] (571,475) rectangle (737,588);
\node[sectitle] (letitle) at (653,477.5) {Life expectancy};
\node[ghost] (le1) at (622,488) {Food per Capita};
\node[ghost] (le2) at (713,486) {Population};
\node[var] (le3) at (686,496) {fraction of\\population urban};
\node[ghost] (le4) at (588,502) {Pollution Index};
\node[aux] (le5) at (621,505) {lifetime\\multiplier food};
\node[aux, minimum width=24pt] (le6) at (652,506) {lifetime multiplier\\from health\\services};
\node[aux] (le7) at (713,506) {crowding\\multiplier};
\node[aux] (le8) at (593,518) {lifetime\\pollution};
\node[aux, minimum width=24pt] (le9) at (679,518) {lifetime multiplier\\from crowding\\services};
\node[ghost] (le10) at (713,523) {Industrial Output};
\node[var] (le11) at (617,532) {lifetime multiplier\\from pollution};
\node[var] (le12) at (652,529) {lifetime multiplier\\from health};
\node[var] (le13) at (636,548) {Life Expectancy};
\node[aux, minimum width=24pt] (le14) at (670,550) {lifetime multiplier\\from food};
\node[aux, minimum width=24pt] (le15) at (594,556) {lifetime multiplier\\from crowding};
\node[ghost] (le16) at (713,551) {Food};
\node[var] (le17) at (633,566) {normal life\\expectancy};
\node[var] (le18) at (678,566) {effective health\\services};
\node[ghost] (le19) at (593,576) {Population};
\node[ghost] (le20) at (707,577) {Health Services};
\draw[link] (le1) -- (le5);
\draw[link] (le5) -- (le11);
\draw[link] (le4) -- (le8);
\draw[link] (le8) -- (le11);
\draw[link] (le6) -- (le12);
\draw[link] (le3) -- (le6);
\draw[link] (le2) -- (le3);
\draw[link] (le3) -- (le7);
\draw[link] (le10) -- (le7);
\draw[link] (le9) -- (le12);
\draw[link] (le11) -- (le13);
\draw[link] (le12) -- (le13);
\draw[link] (le14) -- (le13);
\draw[link] (le15) -- (le13);
\draw[link] (le17) -- (le13);
\draw[link] (le16) -- (le18);
\draw[link] (le18) -- (le14);
\draw[link] (le20) -- (le18);
\draw[link] (le19) -- (le15);
\end{tikzpicture}
\end{document}
